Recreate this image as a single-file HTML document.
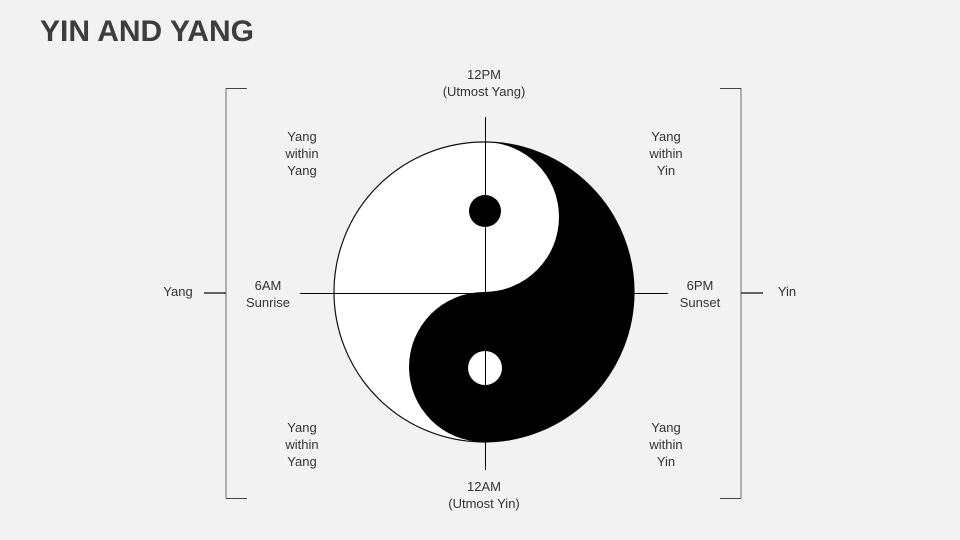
<!DOCTYPE html>
<html><head><meta charset="utf-8"><style>
html,body{margin:0;padding:0;background:#f2f2f2;}
body{width:960px;height:540px;position:relative;overflow:hidden;font-family:"Liberation Sans",sans-serif;}
.t{position:absolute;font-size:13px;color:#333;text-align:center;line-height:17px;width:120px;}
h1{position:absolute;left:40px;top:15px;margin:0;font-size:30px;font-weight:bold;color:#3d3d3d;letter-spacing:0;}
</style></head><body>
<h1>YIN AND YANG</h1>
<svg width="960" height="540" style="position:absolute;left:0;top:0">
<circle cx="484" cy="292" r="150" fill="#fff" stroke="#111" stroke-width="1.2"/>
<path d="M484 142 A150 150 0 0 1 484 442 A75 75 0 0 1 484 292 A75 75 0 0 0 484 142 Z" fill="#000"/>
<circle cx="485" cy="211" r="16" fill="#000"/>
<circle cx="485" cy="368" r="17" fill="#fff"/>
<line x1="485.5" y1="117" x2="485.5" y2="470" stroke="#000" stroke-width="1"/>
<line x1="300" y1="293.5" x2="668" y2="293.5" stroke="#000" stroke-width="1"/>
<line x1="226" y1="88" x2="226" y2="498" stroke="#999" stroke-width="1.5"/>
<line x1="226" y1="88.5" x2="247" y2="88.5" stroke="#444" stroke-width="1"/>
<line x1="226" y1="498.5" x2="247" y2="498.5" stroke="#444" stroke-width="1"/>
<line x1="204" y1="293" x2="226" y2="293" stroke="#333" stroke-width="1.5"/>
<line x1="741" y1="88" x2="741" y2="498" stroke="#999" stroke-width="1.5"/>
<line x1="720" y1="88.5" x2="741" y2="88.5" stroke="#444" stroke-width="1"/>
<line x1="720" y1="498.5" x2="741" y2="498.5" stroke="#444" stroke-width="1"/>
<line x1="741" y1="293" x2="763" y2="293" stroke="#333" stroke-width="1.5"/>
</svg>
<div class="t" style="left:424px;top:66px">12PM<br>(Utmost Yang)</div>
<div class="t" style="left:424px;top:478px">12AM<br>(Utmost Yin)</div>
<div class="t" style="left:242px;top:128px">Yang<br>within<br>Yang</div>
<div class="t" style="left:606px;top:128px">Yang<br>within<br>Yin</div>
<div class="t" style="left:242px;top:419px">Yang<br>within<br>Yang</div>
<div class="t" style="left:606px;top:419px">Yang<br>within<br>Yin</div>
<div class="t" style="left:208px;top:277px">6AM<br>Sunrise</div>
<div class="t" style="left:640px;top:277px">6PM<br>Sunset</div>
<div class="t" style="left:118px;top:283px">Yang</div>
<div class="t" style="left:727px;top:283px">Yin</div>
</body></html>
